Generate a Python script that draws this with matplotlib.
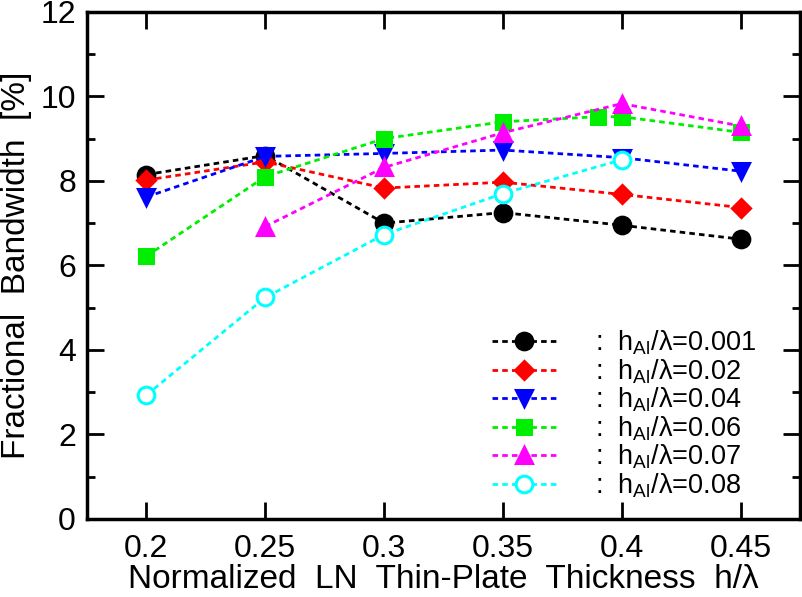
import matplotlib
matplotlib.use("Agg")
import matplotlib.pyplot as plt
from matplotlib.ticker import MultipleLocator

plt.rcParams['font.family'] = ['Liberation Sans', 'DejaVu Sans']
plt.rcParams['mathtext.fontset'] = 'custom'
plt.rcParams['mathtext.rm'] = 'Liberation Sans'
plt.rcParams['mathtext.it'] = 'Liberation Sans'

# data
x_001 = [0.2, 0.25, 0.3, 0.35, 0.4, 0.45]
y_001 = [8.15, 8.6, 7.0, 7.25, 6.95, 6.62]
x_02 = [0.2, 0.25, 0.3, 0.35, 0.4, 0.45]
y_02 = [8.02, 8.45, 7.83, 7.97, 7.68, 7.37]
x_04 = [0.2, 0.25, 0.3, 0.35, 0.4, 0.45]
y_04 = [7.62, 8.58, 8.65, 8.73, 8.55, 8.23]
x_06 = [0.2, 0.25, 0.3, 0.35, 0.39, 0.4, 0.45]
y_06 = [6.22, 8.1, 9.0, 9.4, 9.52, 9.52, 9.15]
x_07 = [0.25, 0.3, 0.35, 0.4, 0.45]
y_07 = [6.92, 8.32, 9.14, 9.83, 9.3]
x_08 = [0.2, 0.25, 0.3, 0.35, 0.4]
y_08 = [2.93, 5.24, 6.73, 7.7, 8.5]

labels = ["0.001", "0.02", "0.04", "0.06", "0.07", "0.08"]
xticks = [0.2, 0.25, 0.3, 0.35, 0.4, 0.45]
xticklabels = ["0.2", "0.25", "0.3", "0.35", "0.4", "0.45"]

series = [
    (x_001, y_001, 'black', 'o', 'black'),
    (x_02, y_02, 'red', 'D', 'red'),
    (x_04, y_04, 'blue', 'v', 'blue'),
    (x_06, y_06, '#00ee00', 's', '#00ee00'),
    (x_07, y_07, 'magenta', '^', 'magenta'),
    (x_08, y_08, 'cyan', 'o', 'white'),
]
msizes = [12, 9.5, 11, 10, 11, 12]

fig = plt.figure(figsize=(8.02, 5.97), dpi=100)
ax = fig.add_axes([0.1085, 0.131, 0.889, 0.849])

handles = []
for (xs, ys, c, m, fc), lab, ms in zip(series, labels, msizes):
    h, = ax.plot(xs, ys, linestyle=(0, (2, 1.5)), color=c, lw=2,
                 marker=m, markersize=ms, markerfacecolor=fc,
                 markeredgecolor=c, markeredgewidth=2.2,
                 label=r":  h$_{\mathrm{Al}}$/λ=" + lab)
    handles.append(h)

ax.set_xlim(0.175, 0.475)
ax.set_ylim(0, 12)
ax.set_xticks(xticks)
ax.set_xticklabels(xticklabels)
ax.yaxis.set_major_locator(MultipleLocator(2))
ax.yaxis.set_minor_locator(MultipleLocator(1))
ax.tick_params(axis='both', which='both', direction='in', top=True, right=True,
               labelsize=23, width=2)
ax.tick_params(axis='both', which='major', length=12)
ax.tick_params(axis='both', which='minor', length=6)
ax.tick_params(axis='x', pad=11)
ax.tick_params(axis='y', pad=8)
for s in ax.spines.values():
    s.set_linewidth(2.5)

ax.set_xlabel("Normalized  LN  Thin-Plate  Thickness  h/λ", fontsize=24, labelpad=0)
ax.set_ylabel("Fractional  Bandwidth  [%]", fontsize=24, labelpad=6)

leg = ax.legend(handles=handles, loc='lower right', frameon=False, fontsize=19.5,
                handlelength=2.4, handletextpad=1.4, labelspacing=0.0,
                borderaxespad=0.3, bbox_to_anchor=(0.965, 0.0))

fig.savefig("out.png", dpi=100)
